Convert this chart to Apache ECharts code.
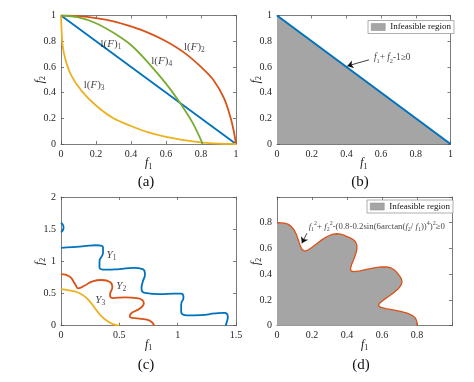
<!DOCTYPE html>
<html><head><meta charset="utf-8">
<script src="https://cdn.jsdelivr.net/npm/echarts@6/dist/echarts.min.js"></script>
<style>html,body{margin:0;padding:0;background:#fff}#c{width:474px;height:382px}</style>
</head><body><div id="c"></div>
<script>
const FONT = '"Liberation Serif","Times New Roman",serif';
// ---------- panel (a) ----------
const lF1 = [[0,1],[1,0]];
const lF2 = [[0,1],[0.1,0.995],[0.2,0.98],[0.3,0.955],[0.4,0.915],[0.5,0.865],[0.6,0.8],[0.7,0.715],[0.8,0.6],[0.87,0.5],[0.93,0.36],[0.97,0.2],[0.99,0.08],[1,0]];
const lF3 = [[0,1],[0.003,0.9],[0.008,0.78],[0.025,0.66],[0.06,0.53],[0.12,0.41],[0.2,0.3],[0.3,0.2],[0.4,0.14],[0.5,0.09],[0.6,0.055],[0.7,0.03],[0.8,0.012],[0.9,0.003],[1,0]];
const lF4 = [[0,1],[0.1,0.985],[0.2,0.94],[0.3,0.865],[0.4,0.77],[0.5,0.63],[0.6,0.47],[0.68,0.32],[0.75,0.17],[0.81,0]];
// ---------- panel (b) ----------
const bBoundary = [[0,1],[1,0]];
// ---------- panel (c) ----------
const Y1hook = [[0,1.6],[0.014,1.575],[0.022,1.53],[0.016,1.48],[0,1.45]];
const Y1 = [[0,1.21],[0.1,1.22],[0.2,1.235],[0.3,1.25],[0.36,1.22],[0.36,1.13],[0.33,1.0],[0.33,0.9],[0.38,0.87],[0.5,0.88],[0.62,0.9],[0.7,0.88],[0.72,0.8],[0.7,0.68],[0.69,0.58],[0.72,0.51],[0.85,0.49],[0.97,0.5],[1.03,0.5],[1.05,0.44],[1.03,0.33],[1.03,0.22],[1.08,0.16],[1.2,0.165],[1.32,0.19],[1.4,0.2],[1.43,0.14],[1.42,0.05],[1.41,0]];
const Y2 = [[0,0.8],[0.07,0.77],[0.12,0.65],[0.15,0.58],[0.2,0.62],[0.27,0.69],[0.35,0.71],[0.42,0.68],[0.44,0.6],[0.42,0.48],[0.44,0.43],[0.55,0.44],[0.65,0.43],[0.71,0.35],[0.68,0.27],[0.6,0.19],[0.59,0.14],[0.67,0.11],[0.76,0.08],[0.8,0]];
const Y3 = [[0,0.57],[0.07,0.55],[0.14,0.52],[0.2,0.46],[0.25,0.37],[0.3,0.25],[0.35,0.14],[0.4,0.07],[0.45,0.02],[0.5,0]];
// ---------- panel (d) ----------
const dBoundary = [[0.8,0],[0.7996,0.0209],[0.7971,0.0418],[0.7891,0.0621],[0.7718,0.0811],[0.7436,0.0979],[0.7055,0.1117],[0.6627,0.1228],[0.6225,0.1323],[0.5929,0.1423],[0.5796,0.1553],[0.5846,0.1732],[0.6053,0.1967],[0.6353,0.2250],[0.6669,0.2560],[0.6929,0.2870],[0.7090,0.3157],[0.7144,0.3407],[0.7112,0.3624],[0.7030,0.3817],[0.6928,0.4],[0.6820,0.4180],[0.6694,0.4347],[0.6523,0.4483],[0.6279,0.4562],[0.5950,0.4566],[0.5551,0.4495],[0.5125,0.4377],[0.4729,0.4258],[0.4423,0.4197],[0.4243,0.4243],[0.4197,0.4423],[0.4258,0.4729],[0.4377,0.5125],[0.4495,0.5551],[0.4566,0.5950],[0.4562,0.6279],[0.4483,0.6523],[0.4347,0.6694],[0.4180,0.6820],[0.4,0.6928],[0.3817,0.7030],[0.3624,0.7112],[0.3407,0.7144],[0.3157,0.7090],[0.2870,0.6929],[0.2560,0.6669],[0.2250,0.6353],[0.1967,0.6053],[0.1732,0.5846],[0.1553,0.5796],[0.1423,0.5929],[0.1323,0.6225],[0.1228,0.6627],[0.1117,0.7055],[0.0979,0.7436],[0.0811,0.7718],[0.0621,0.7891],[0.0418,0.7971],[0.0209,0.7996],[0,0.8]];
const origin = [0,0];

const C_BLUE='#0072BD', C_RED='#D95319', C_YEL='#EDB120', C_GRN='#77AC30', C_GRAY='#a5a5a5';
const AX='#5a5a5a';
function richSized(fs){
  return {
    t:{fontFamily:FONT,fontSize:fs,color:'#111',lineHeight:fs+3},
    it:{fontFamily:FONT,fontSize:fs,fontStyle:'italic',color:'#111',lineHeight:fs+3},
    s:{fontFamily:FONT,fontSize:fs*0.68,color:'#111',lineHeight:fs*0.7,verticalAlign:'bottom'},
    p:{fontFamily:FONT,fontSize:fs*0.68,color:'#111',lineHeight:fs*0.7,verticalAlign:'top'}
  };
}
const grids = [
  {left:61, top:15.5, width:175, height:128.5},
  {left:277, top:15.5, width:173.5, height:128.5},
  {left:61, top:197, width:175, height:128.7},
  {left:277, top:197, width:175, height:128.7}
];
const xAxes=[], yAxes=[];
function addAxes(g, xr, yr, xfmt, yfmt){
  const common = {
    gridIndex:g, type:'value',
    axisLine:{show:true,onZero:false,lineStyle:{color:AX,width:0.8}},
    axisTick:{show:true,inside:true,length:3,lineStyle:{color:AX,width:0.8}},
    splitLine:{show:false}
  };
  const lbl = {fontFamily:FONT,fontSize:10,color:'#262626',margin:5};
  xAxes.push(Object.assign({},common,{position:'bottom',min:xr[0],max:xr[1],interval:xr[2],
    axisLabel:Object.assign({},lbl,{formatter:xfmt}),
    name:'{it|f}{s|1}',nameLocation:'middle',nameGap:12,nameMoveOverlap:false,nameTextStyle:{rich:richSized(11.5)}}));
  xAxes.push(Object.assign({},common,{position:'top',min:xr[0],max:xr[1],interval:xr[2],axisLabel:{show:false}}));
  yAxes.push(Object.assign({},common,{position:'left',min:yr[0],max:yr[1],interval:yr[2],
    axisLabel:Object.assign({},lbl,{formatter:yfmt}),
    name:'{it|f}{s|2}',nameLocation:'middle',nameGap:14,nameMoveOverlap:false,nameTextStyle:{rich:richSized(11.5)}}));
  yAxes.push(Object.assign({},common,{position:'right',min:yr[0],max:yr[1],interval:yr[2],axisLabel:{show:false}}));
}
const plain = v => String(+v.toFixed(2));
const hideOne = v => (v >= 0.999 ? '' : String(+v.toFixed(2)));
addAxes(0,[0,1,0.2],[0,1,0.2],plain,plain);
addAxes(1,[0,1,0.2],[0,1,0.2],plain,plain);
addAxes(2,[0,1.5,0.5],[0,2,0.5],plain,plain);
addAxes(3,[0,1,0.2],[0,1,0.2],hideOne,hideOne);

function line(name,data,g,color,w,sm){
  return {type:'line',name:name,data:data,xAxisIndex:2*g,yAxisIndex:2*g,showSymbol:false,symbol:'none',
    smooth:(sm===undefined?0.35:sm),lineStyle:{color:color,width:w||1.8},itemStyle:{color:color},silent:true,z:3};
}
function textMark(pt,g,fmt,fs,arrow){
  const s = {type:'scatter',data:[pt],xAxisIndex:2*g,yAxisIndex:2*g,symbolSize:1,itemStyle:{color:'rgba(0,0,0,0)'},silent:true,z:6,
    label:{show:true,position:'right',distance:0,formatter:fmt,rich:richSized(fs)}};
  if(arrow){
    s.markLine={silent:true,symbol:['none','arrow'],symbolSize:6,animation:false,
      itemStyle:{color:'#111'},
      lineStyle:{color:'#111',width:0.8,type:'solid'},label:{show:false},emphasis:{disabled:true},
      data:[[{coord:arrow[0]},{coord:arrow[1]}]]};
  }
  return s;
}
function fill(name,boundary,g){
  const poly = boundary.concat([origin]);
  return {type:'custom',name:name,xAxisIndex:2*g,yAxisIndex:2*g,data:poly,silent:true,z:1,
    itemStyle:{color:C_GRAY},
    encode:{x:0,y:1},
    renderItem:function(params,api){
      if(params.dataIndexInside!==0) return null;
      const pts = poly.map(p=>api.coord(p));
      return {type:'polygon',shape:{points:pts},style:{fill:C_GRAY,stroke:null}};
    }};
}
const series = [
  line('l1',lF1,0,C_BLUE),
  line('l2',lF2,0,C_RED),
  line('l3',lF3,0,C_YEL),
  line('l4',lF4,0,C_GRN),
  textMark([0.223,0.78],0,'{t|l(}{it|F}{t|)}{s|1}',11),
  textMark([0.70,0.757],0,'{t|l(}{it|F}{t|)}{s|2}',11),
  textMark([0.513,0.646],0,'{t|l(}{it|F}{t|)}{s|4}',11),
  textMark([0.127,0.459],0,'{t|l(}{it|F}{t|)}{s|3}',11),
  fill('Infeasible region',bBoundary,1),
  line('bb',bBoundary,1,C_BLUE,2),
  textMark([0.556,0.67],1,'{it|f}{s|1}{t|+ }{it|f}{s|2}{t|-1≥0}',9.3,[[0.53,0.655],[0.405,0.607]]),
  line('Y1h',Y1hook,2,C_BLUE),
  line('Y1',Y1,2,C_BLUE,1.8,0.5),
  line('Y2',Y2,2,C_RED,1.8,0.5),
  line('Y3',Y3,2,C_YEL,1.8,0.5),
  textMark([0.386,1.10],2,'{it|Y}{s|1}',11),
  textMark([0.47,0.62],2,'{it|Y}{s|2}',11),
  textMark([0.29,0.40],2,'{it|Y}{s|3}',11),
  fill('Infeasible region',dBoundary,3),
  line('db',dBoundary,3,C_RED,1.3,false),
  textMark([0.178,0.77],3,'{it|f}{s|1}{p|2}{t|+ }{it|f}{s|2}{p|2}{t|-(0.8-0.2sin(6arctan(}{it|f}{s|2}{t|/ }{it|f}{s|1}{t|))}{p|4}{t|)}{p|2}{t|≥0}',8.8,[[0.171,0.718],[0.142,0.64]])
];
const legendCommon = {data:[{name:'Infeasible region',icon:'rect',itemStyle:{color:C_GRAY,borderColor:'#888',borderWidth:0.5}}],
  orient:'horizontal',padding:[2,3,2,3],itemWidth:14,itemHeight:7,itemGap:0,
  textStyle:{fontFamily:FONT,fontSize:9,color:'#111'},borderColor:'#999',borderWidth:0.8,backgroundColor:'#fff',
  selectedMode:false,z:10};
const option = {
  animation:false,
  grid:grids,
  xAxis:xAxes, yAxis:yAxes,
  legend:[Object.assign({left:368,top:20.5},legendCommon),Object.assign({left:367,top:200},legendCommon)],
  series:series,
  graphic:[
    {type:'text',style:{text:'(a)',x:146,y:182,font:'15px '+FONT,fill:'#111',align:'center',verticalAlign:'middle'}},
    {type:'text',style:{text:'(b)',x:360,y:182,font:'15px '+FONT,fill:'#111',align:'center',verticalAlign:'middle'}},
    {type:'text',style:{text:'(c)',x:146,y:365,font:'15px '+FONT,fill:'#111',align:'center',verticalAlign:'middle'}},
    {type:'text',style:{text:'(d)',x:361,y:365,font:'15px '+FONT,fill:'#111',align:'center',verticalAlign:'middle'}}
  ]
};
const chart = echarts.init(document.getElementById('c'),null,{renderer:'canvas'});
chart.setOption(option);
</script></body></html>
